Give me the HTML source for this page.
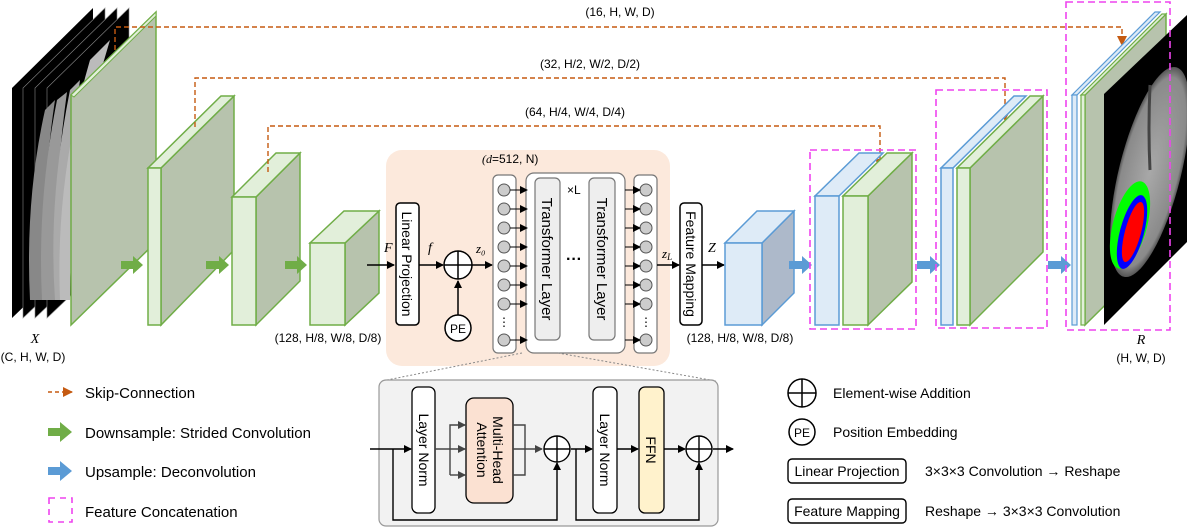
<!DOCTYPE html>
<html><head><meta charset="utf-8"><style>
body{margin:0;background:#fff}
svg{display:block}
text{font-family:"Liberation Sans",Arial,sans-serif;fill:#000}
.s{font-family:"Liberation Serif",serif;font-style:italic}
</style></head><body>
<svg width="1191" height="529" viewBox="0 0 1191 529" xmlns="http://www.w3.org/2000/svg">
<defs>
<marker id="ab" markerWidth="8" markerHeight="8" refX="7" refY="4" orient="auto" markerUnits="userSpaceOnUse"><path d="M0,0 L8,4 L0,8z" fill="#000"/></marker>
<marker id="ag" markerWidth="8" markerHeight="8" refX="7" refY="4" orient="auto" markerUnits="userSpaceOnUse"><path d="M0,0 L8,4 L0,8z" fill="#444"/></marker>
<marker id="ao" markerWidth="10" markerHeight="10" refX="9" refY="5" orient="auto" markerUnits="userSpaceOnUse"><path d="M0,0 L10,5 L0,10z" fill="#c55a11"/></marker>
<radialGradient id="br" cx="0.5" cy="0.5" r="0.5"><stop offset="0" stop-color="#a8a8a8"/><stop offset="0.9" stop-color="#8a8a8a"/><stop offset="1" stop-color="#555"/></radialGradient>
<clipPath id="cp"><polygon points="1104,325 1104,94 1187,15 1187,242"/></clipPath>
</defs>

<!-- input slices -->
<g>
<polygon points="12,318 12,88 93,8 93,240" fill="#000"/>
<polygon points="23,318 23,88 105,8 105,240" fill="#000" stroke="#888" stroke-width="0.6"/>
<polygon points="35,318 35,88 117,8 117,240" fill="#000" stroke="#888" stroke-width="0.6"/>
<polygon points="47,318 47,88 129,8 129,240" fill="#000" stroke="#888" stroke-width="0.6"/>
<path d="M30,300 Q25,200 45,110 L55,100 Q40,200 45,300z" fill="#888"/>
<path d="M42,300 Q37,200 57,100 L67,92 Q52,200 57,300z" fill="#999"/>
<path d="M55,300 Q48,200 70,90 L80,80 Q62,200 68,300z" fill="#aaa"/>
<path d="M60,300 Q55,180 90,60 L110,40 Q70,170 70,300z" fill="#bbb"/>
</g>
<!-- big green plane -->
<polygon points="71,325 71,95 156,12 156,242" fill="#b7c3ad" stroke="#70ad47" stroke-width="1.5"/>
<polygon points="71,95 156,12 156,16 74,97" fill="#e2efda" stroke="#70ad47" stroke-width="1"/>
<!-- box2 -->
<polygon points="161,168 234,96 234,250 161,325" fill="#b7c3ad" stroke="#70ad47" stroke-width="1.5"/>
<polygon points="148,168 161,168 234,96 221,96" fill="#e2efda" stroke="#70ad47" stroke-width="1.5"/>
<rect x="148" y="168" width="13" height="157" fill="#e2efda" stroke="#70ad47" stroke-width="1.5"/>
<!-- box3 -->
<polygon points="256,197 300,153 300,281 256,325" fill="#b7c3ad" stroke="#70ad47" stroke-width="1.5"/>
<polygon points="232,197 256,197 300,153 276,153" fill="#e2efda" stroke="#70ad47" stroke-width="1.5"/>
<rect x="232" y="197" width="24" height="128" fill="#e2efda" stroke="#70ad47" stroke-width="1.5"/>
<!-- box4 -->
<polygon points="345,243 379,211 379,293 345,325" fill="#b7c3ad" stroke="#70ad47" stroke-width="1.5"/>
<polygon points="310,243 345,243 379,211 344,211" fill="#e2efda" stroke="#70ad47" stroke-width="1.5"/>
<rect x="310" y="243" width="35" height="82" fill="#e2efda" stroke="#70ad47" stroke-width="1.5"/>
<!-- green arrows -->
<g fill="#70ad47">
<path d="M121,261 h12 v-5 l10,9 l-10,9 v-5 h-12z"/>
<path d="M206,261 h13 v-5 l10,9 l-10,9 v-5 h-13z"/>
<path d="M285,261 h12 v-5 l10,9 l-10,9 v-5 h-12z"/>
</g>

<!-- skip connections -->
<g fill="none" stroke="#c55a11" stroke-width="1.4" stroke-dasharray="5,3">
<path d="M115,50 V27 H1122 V45" marker-end="url(#ao)"/>
<path d="M195,127 V78 H1005 V120" marker-end="url(#ao)"/>
<path d="M268,172 V126 H880 V168" marker-end="url(#ao)"/>
</g>
<text x="620" y="16" font-size="12" text-anchor="middle">(16, H, W, D)</text>
<text x="590" y="68" font-size="12" text-anchor="middle">(32, H/2, W/2, D/2)</text>
<text x="575" y="116" font-size="12" text-anchor="middle">(64, H/4, W/4, D/4)</text>

<!-- peach transformer area -->
<rect x="386" y="150" width="284" height="216" rx="16" fill="#fce9dc"/>
<line x1="367" y1="265" x2="394" y2="265" stroke="#000" stroke-width="1.5" marker-end="url(#ab)"/>
<text x="384" y="252" class="s" font-size="14">F</text>
<rect x="396" y="203" width="23" height="122" rx="4" fill="#fff" stroke="#000" stroke-width="1.5"/>
<text transform="translate(402,264) rotate(90)" font-size="14" text-anchor="middle">Linear Projection</text>
<line x1="419" y1="265" x2="443" y2="265" stroke="#000" stroke-width="1.5" marker-end="url(#ab)"/>
<text x="428" y="252" class="s" font-size="14">f</text>
<circle cx="458" cy="265" r="14" fill="#fff" stroke="#000" stroke-width="1.5"/>
<path d="M444,265 h28 M458,251 v28" stroke="#000" stroke-width="1.5"/>
<circle cx="458" cy="328" r="13" fill="#fff" stroke="#000" stroke-width="1.5"/>
<text x="458" y="333" font-size="12" text-anchor="middle">PE</text>
<line x1="458" y1="315" x2="458" y2="281" stroke="#000" stroke-width="1.5" marker-end="url(#ab)"/>
<line x1="472" y1="265" x2="492" y2="265" stroke="#000" stroke-width="1.5" marker-end="url(#ab)"/>
<text x="476" y="253" class="s" font-size="13">z₀</text>
<text x="482" y="163" font-size="12"><tspan class="s">(d</tspan>=512, N)</text>
<!-- tokens -->
<rect x="493" y="175" width="23" height="178" rx="5" fill="#fff" stroke="#777" stroke-width="1.2"/>
<rect x="634" y="175" width="23" height="178" rx="5" fill="#fff" stroke="#777" stroke-width="1.2"/>
<rect x="526" y="173" width="99" height="180" rx="8" fill="#fff" stroke="#777" stroke-width="1.2"/>
<rect x="535" y="178" width="25" height="162" rx="5" fill="#eee" stroke="#777" stroke-width="1.2"/>
<rect x="589" y="178" width="26" height="162" rx="5" fill="#eee" stroke="#777" stroke-width="1.2"/>
<text transform="translate(542,259) rotate(90)" font-size="15" text-anchor="middle">Transformer Layer</text>
<text transform="translate(597,259) rotate(90)" font-size="15" text-anchor="middle">Transformer Layer</text>
<text x="567" y="194" font-size="12">×L</text>
<text x="574" y="264" font-size="16" text-anchor="middle" font-weight="bold">···</text>
<g fill="#ccc" stroke="#555" stroke-width="1">
<circle cx="504" cy="190" r="6"/><circle cx="504" cy="209" r="6"/><circle cx="504" cy="228" r="6"/><circle cx="504" cy="247" r="6"/><circle cx="504" cy="266" r="6"/><circle cx="504" cy="285" r="6"/><circle cx="504" cy="304" r="6"/><circle cx="504" cy="340" r="6"/>
<circle cx="646" cy="190" r="6"/><circle cx="646" cy="209" r="6"/><circle cx="646" cy="228" r="6"/><circle cx="646" cy="247" r="6"/><circle cx="646" cy="266" r="6"/><circle cx="646" cy="285" r="6"/><circle cx="646" cy="304" r="6"/><circle cx="646" cy="340" r="6"/>
</g>
<text x="504" y="326" font-size="12" text-anchor="middle">⋮</text>
<text x="646" y="326" font-size="12" text-anchor="middle">⋮</text>
<g stroke="#000" stroke-width="1" marker-end="url(#ab)">
<line x1="510" y1="190" x2="527" y2="190"/><line x1="510" y1="209" x2="527" y2="209"/><line x1="510" y1="228" x2="527" y2="228"/><line x1="510" y1="247" x2="527" y2="247"/><line x1="510" y1="266" x2="527" y2="266"/><line x1="510" y1="285" x2="527" y2="285"/><line x1="510" y1="304" x2="527" y2="304"/><line x1="510" y1="340" x2="527" y2="340"/>
<line x1="625" y1="190" x2="640" y2="190"/><line x1="625" y1="209" x2="640" y2="209"/><line x1="625" y1="228" x2="640" y2="228"/><line x1="625" y1="247" x2="640" y2="247"/><line x1="625" y1="266" x2="640" y2="266"/><line x1="625" y1="285" x2="640" y2="285"/><line x1="625" y1="304" x2="640" y2="304"/><line x1="625" y1="340" x2="640" y2="340"/>
</g>
<line x1="657" y1="265" x2="679" y2="265" stroke="#000" stroke-width="1.5" marker-end="url(#ab)"/>
<text x="662" y="258" class="s" font-size="13">z<tspan font-size="9" dy="2">L</tspan></text>
<rect x="680" y="203" width="22" height="122" rx="4" fill="#fff" stroke="#000" stroke-width="1.5"/>
<text transform="translate(686,264) rotate(90)" font-size="14" text-anchor="middle">Feature Mapping</text>
<line x1="702" y1="265" x2="724" y2="265" stroke="#000" stroke-width="1.5" marker-end="url(#ab)"/>
<text x="708" y="252" class="s" font-size="14">Z</text>

<text x="328" y="342" font-size="12" text-anchor="middle">(128, H/8, W/8, D/8)</text>
<text x="740" y="342" font-size="12" text-anchor="middle">(128, H/8, W/8, D/8)</text>
<text x="35" y="343" class="s" font-size="14" text-anchor="middle">X</text>
<text x="33" y="361" font-size="12" text-anchor="middle">(C, H, W, D)</text>

<!-- blue box -->
<polygon points="762,243 794,211 794,293 762,325" fill="#adb9ca" stroke="#5b9bd5" stroke-width="1.5"/>
<polygon points="725,243 762,243 794,211 757,211" fill="#deebf7" stroke="#5b9bd5" stroke-width="1.5"/>
<rect x="725" y="243" width="37" height="82" fill="#deebf7" stroke="#5b9bd5" stroke-width="1.5"/>
<g fill="#5b9bd5">
<path d="M789,261 h13 v-5 l10,9 l-10,9 v-5 h-13z"/>
<path d="M917,261 h13 v-5 l10,9 l-10,9 v-5 h-13z"/>
<path d="M1048,261 h13 v-5 l10,9 l-10,9 v-5 h-13z"/>
</g>
<!-- up stage 1 -->
<polygon points="815,196 839,196 883,153 859,153" fill="#deebf7" stroke="#5b9bd5" stroke-width="1.5"/>
<rect x="815" y="196" width="24" height="129" fill="#deebf7" stroke="#5b9bd5" stroke-width="1.5"/>
<polygon points="868,196 912,153 912,282 868,325" fill="#b7c3ad" stroke="#70ad47" stroke-width="1.5"/>
<polygon points="843,196 868,196 912,153 887,153" fill="#e2efda" stroke="#70ad47" stroke-width="1.5"/>
<rect x="843" y="196" width="25" height="129" fill="#e2efda" stroke="#70ad47" stroke-width="1.5"/>
<!-- up stage 2 -->
<polygon points="941,168 953,168 1026,96 1014,96" fill="#deebf7" stroke="#5b9bd5" stroke-width="1.5"/>
<rect x="941" y="168" width="12" height="157" fill="#deebf7" stroke="#5b9bd5" stroke-width="1.5"/>
<polygon points="970,168 1043,96 1043,252 970,325" fill="#b7c3ad" stroke="#70ad47" stroke-width="1.5"/>
<polygon points="957,168 970,168 1043,96 1030,96" fill="#e2efda" stroke="#70ad47" stroke-width="1.5"/>
<rect x="957" y="168" width="13" height="157" fill="#e2efda" stroke="#70ad47" stroke-width="1.5"/>
<!-- up stage 3 -->
<polygon points="1072,95 1077,95 1160,12 1155,12" fill="#deebf7" stroke="#5b9bd5" stroke-width="1.2"/>
<rect x="1072" y="95" width="5" height="230" fill="#deebf7" stroke="#5b9bd5" stroke-width="1.2"/>
<polygon points="1085,95 1166,14 1166,245 1085,325" fill="#b7c3ad" stroke="#70ad47" stroke-width="1.5"/>
<polygon points="1081,95 1085,95 1166,14 1162,14" fill="#e2efda" stroke="#70ad47" stroke-width="1.2"/>
<rect x="1081" y="95" width="4" height="230" fill="#e2efda" stroke="#70ad47" stroke-width="1.2"/>
<!-- output image -->
<polygon points="1104,325 1104,94 1187,15 1187,242" fill="#000"/>
<g clip-path="url(#cp)">
<ellipse cx="1150" cy="172" rx="31" ry="108" transform="rotate(14 1150 172)" fill="url(#br)"/>
<path d="M1150,85 Q1148,130 1150,170" stroke="#444" stroke-width="3" fill="none"/>
<ellipse cx="1130" cy="225" rx="17" ry="45" transform="rotate(15 1130 225)" fill="#00ff00"/>
<ellipse cx="1132" cy="232" rx="12" ry="38" transform="rotate(15 1132 232)" fill="#0000ff"/>
<ellipse cx="1133" cy="232" rx="8" ry="31" transform="rotate(15 1133 232)" fill="#ff0000"/>
</g>
<text x="1141" y="344" class="s" font-size="14" text-anchor="middle">R</text>
<text x="1141" y="362" font-size="12" text-anchor="middle">(H, W, D)</text>
<!-- pink dashed -->
<g fill="none" stroke="#ee44ee" stroke-width="1.6" stroke-dasharray="7,4">
<rect x="810" y="150" width="106" height="179"/>
<rect x="936" y="90" width="111" height="238"/>
<rect x="1066" y="2" width="104" height="328"/>
</g>

<!-- detail box -->
<g stroke="#888" stroke-width="1" stroke-dasharray="2,2"><line x1="522" y1="353" x2="382" y2="381"/><line x1="558" y1="353" x2="716" y2="381"/></g>
<rect x="379" y="380" width="339" height="146" rx="7" fill="#f2f2f2" stroke="#999" stroke-width="1.2"/>
<rect x="412" y="387" width="23" height="126" rx="6" fill="#fff" stroke="#000" stroke-width="1.3"/>
<text transform="translate(419,450) rotate(90)" font-size="14" text-anchor="middle">Layer Norm</text>
<rect x="466" y="398" width="47" height="105" rx="8" fill="#fbe1d2" stroke="#000" stroke-width="1.3"/>
<text transform="translate(490,450) rotate(90)" font-size="14" text-anchor="middle"><tspan x="0" dy="-3">Multi-Head</tspan><tspan x="0" dy="16">Attention</tspan></text>
<rect x="593" y="387" width="24" height="126" rx="6" fill="#fff" stroke="#000" stroke-width="1.3"/>
<text transform="translate(600,450) rotate(90)" font-size="14" text-anchor="middle">Layer Norm</text>
<rect x="639" y="387" width="25" height="126" rx="6" fill="#fff2cc" stroke="#000" stroke-width="1.3"/>
<text transform="translate(646,450) rotate(90)" font-size="14" text-anchor="middle">FFN</text>
<g stroke="#000" stroke-width="1.4" fill="none">
<line x1="370" y1="449" x2="411" y2="449" marker-end="url(#ab)"/>
<path d="M393,449 V520 H557 V463" marker-end="url(#ab)"/>
<line x1="571" y1="449" x2="592" y2="449" marker-end="url(#ab)"/>
<path d="M576,449 V520 H699 V463" marker-end="url(#ab)"/>
<line x1="617" y1="449" x2="638" y2="449" marker-end="url(#ab)"/>
<line x1="664" y1="449" x2="685" y2="449" marker-end="url(#ab)"/>
<line x1="713" y1="449" x2="733" y2="449" marker-end="url(#ab)"/>
</g>
<g stroke="#444" stroke-width="1.4" fill="none">
<line x1="435" y1="449" x2="465" y2="449" marker-end="url(#ag)"/>
<path d="M450,475 V425 H465" marker-end="url(#ag)"/>
<path d="M450,475 H465" marker-end="url(#ag)"/>
<path d="M513,425 H525 V475 H513"/>
<line x1="513" y1="449" x2="542" y2="449" marker-end="url(#ag)"/>
</g>
<g fill="#fff" stroke="#000" stroke-width="1.4"><circle cx="557" cy="449" r="13"/><circle cx="699" cy="449" r="13"/></g>
<path d="M544,449 h26 M557,436 v26 M686,449 h26 M699,436 v26" stroke="#000" stroke-width="1.4"/>

<!-- left legend -->
<line x1="48" y1="392" x2="72" y2="392" stroke="#c55a11" stroke-width="1.4" stroke-dasharray="4,3" marker-end="url(#ao)"/>
<path d="M48,428 h12 v-6 l12,10 l-12,10 v-6 h-12z" fill="#70ad47"/>
<path d="M48,467 h12 v-6 l12,10 l-12,10 v-6 h-12z" fill="#5b9bd5"/>
<rect x="49" y="498" width="23" height="24" fill="none" stroke="#ee44ee" stroke-width="1.6" stroke-dasharray="6,5"/>
<g font-size="15">
<text x="85" y="398">Skip-Connection</text>
<text x="85" y="438">Downsample: Strided Convolution</text>
<text x="85" y="477">Upsample: Deconvolution</text>
<text x="85" y="517">Feature Concatenation</text>
</g>
<!-- right legend -->
<circle cx="802" cy="393" r="14" fill="#fff" stroke="#000" stroke-width="1.5"/>
<path d="M788,393 h28 M802,379 v28" stroke="#000" stroke-width="1.5"/>
<circle cx="802" cy="432" r="13" fill="#fff" stroke="#000" stroke-width="1.5"/>
<text x="802" y="437" font-size="12" text-anchor="middle">PE</text>
<rect x="788" y="459" width="118" height="24" rx="4" fill="#fff" stroke="#000" stroke-width="1.4"/>
<text x="847" y="476" font-size="14" text-anchor="middle">Linear Projection</text>
<rect x="788" y="499" width="118" height="24" rx="4" fill="#fff" stroke="#000" stroke-width="1.4"/>
<text x="847" y="516" font-size="14" text-anchor="middle">Feature Mapping</text>
<g font-size="14">
<text x="833" y="398">Element-wise Addition</text>
<text x="833" y="437">Position Embedding</text>
<text x="925" y="476">3×3×3 Convolution → Reshape</text>
<text x="925" y="516">Reshape → 3×3×3 Convolution</text>
</g>
</svg>
</body></html>
